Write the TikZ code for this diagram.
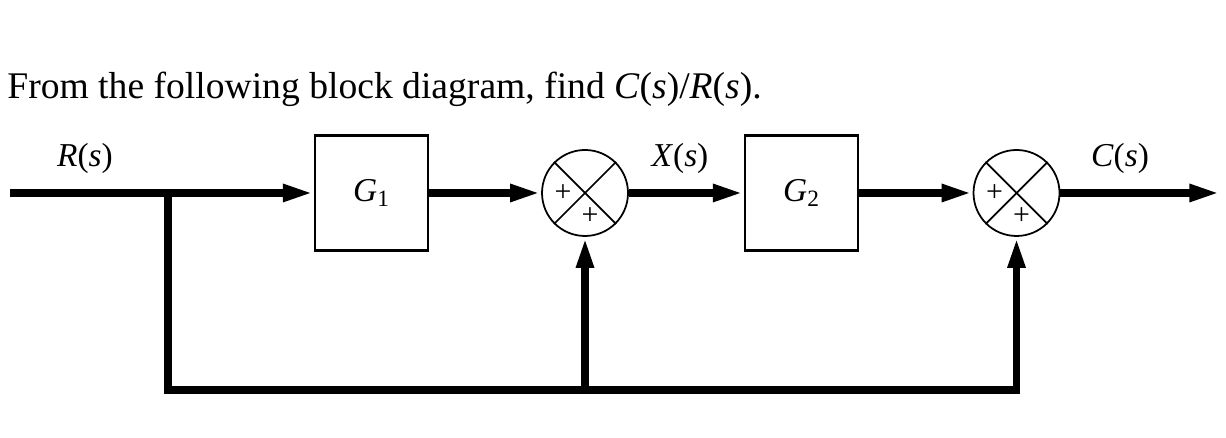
\documentclass[tikz,border=0pt]{standalone}
\usepackage{fontspec}
\setmainfont{Liberation Serif}
\usetikzlibrary{positioning, arrows.meta}
\begin{document}
\begin{tikzpicture}[
    font=\fontsize{19}{22}\selectfont,
    block/.style={rectangle, draw, line width=1.3pt, minimum width=2.26cm, minimum height=2.3cm},
    summer/.style={circle, draw, line width=1pt, minimum size=1.72cm, inner sep=0pt},
    sig/.style={line width=4.5pt, line cap=rect},
    arrow/.style={line width=4.5pt, -{Triangle[length=0.62cm, width=0.32cm]}},
    plus/.style={font=\fontsize{17}{17}\selectfont, inner sep=0pt}
]
\useasboundingbox (0,0) rectangle (24.52,8.76);
% --- Enunciado ---
\node[anchor=base west, font=\fontsize{21.4}{26}\selectfont, inner sep=0pt] (title) at (0.14,6.78)
    {From the following block diagram, find \textit{C}(\textit{s})/\textit{R}(\textit{s}).};
% --- Bloques ---
\coordinate (in) at (0.2,4.9);
\node[block] (g1) at (7.43,4.9) {\textit{G}\textsubscript{1}};
\node[summer] (sum1) at (11.7,4.9) {};
\node[block] (g2) at (16.03,4.9) {\textit{G}\textsubscript{2}};
\node[summer] (sum2) at (20.33,4.9) {};
\coordinate[right=3.2cm of sum2] (out);
% --- Cruces de los sumadores ---
\foreach \s in {sum1, sum2} {
    \draw[line width=1pt] (\s.north west) -- (\s.south east);
    \draw[line width=1pt] (\s.north east) -- (\s.south west);
    \node[plus] at ([xshift=-0.44cm]\s.center) {+};
    \node[plus] at ([yshift=-0.46cm, xshift=0.1cm]\s.center) {+};
}
% --- Flechas ---
\coordinate (branch) at (3.36,4.9);
\coordinate (bl) at (3.36,0.96);
\coordinate (bm) at (sum1 |- bl);
\coordinate (br) at (sum2 |- bl);
\draw[arrow] (in) -- (g1);
\draw[arrow] (g1) -- (sum1);
\draw[arrow] (sum1) -- (g2);
\draw[arrow] (g2) -- (sum2);
\draw[arrow] (sum2) -- (out);
\draw[sig, line join=miter] (branch) -- (bl) -- (br);
\draw[arrow] (bm) -- (sum1);
\draw[arrow] (br) -- (sum2);
% --- Etiquetas ---
\node at (1.7,5.6) {\textit{R}(\textit{s})};
\node at (13.6,5.6) {\textit{X}(\textit{s})};
\node at (22.4,5.6) {\textit{C}(\textit{s})};
\end{tikzpicture}
\end{document}
